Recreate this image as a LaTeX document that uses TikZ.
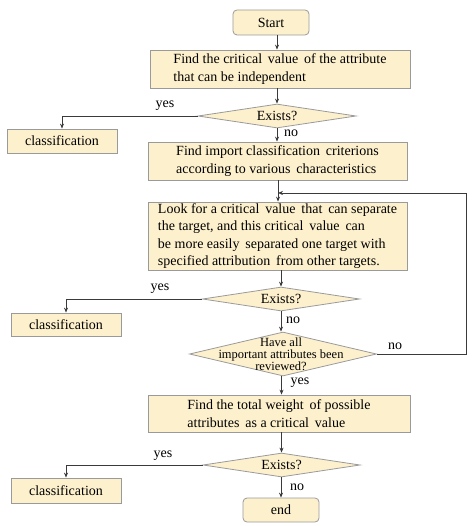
\documentclass[tikz,border=0pt]{standalone}
\usepackage{fontspec}
\setmainfont{Liberation Serif}
\usetikzlibrary{shapes.geometric,arrows.meta}
\definecolor{boxfill}{HTML}{FDF0CD}
\definecolor{boxline}{HTML}{9A9A9A}
\definecolor{conn}{HTML}{3A3A3A}
\begin{document}
\begin{tikzpicture}[x=1pt,y=-1pt,
  every node/.style={font=\fontsize{14}{17.3}\selectfont},
  procbox/.style={draw=boxline,fill=boxfill,line width=0.8pt,inner sep=0pt,align=left},
  termbox/.style={procbox,rounded corners=4pt,align=center},
  decbox/.style={draw=boxline,fill=boxfill,line width=0.8pt,diamond,inner sep=0pt,aspect=6},
  lbl/.style={inner sep=0pt},
  arr/.style={draw=conn,line width=0.7pt,-{Stealth[length=5pt,width=4pt]}},
  ln/.style={draw=conn,line width=0.7pt}]
\useasboundingbox (0,0) rectangle (474,526);
\node[termbox,minimum width=76,minimum height=25] (start) at (271,22.5) {Start};
\node[procbox,minimum width=260,minimum height=38] (box1) at (280,69)
  {Find the critical\, value\, of the attribute\\that can be independent};
\node[decbox,minimum width=158,minimum height=24] (d1) at (277,116) {};
\node[lbl] (d1t) at (277,116) {Exists?};
\node[procbox,minimum width=110,minimum height=24,align=center] (cls1) at (62,141) {classification};
\node[procbox,minimum width=259,minimum height=38] (box2) at (277.5,161)
  {Find import classification\, criterions\\according to various\, characteristics};
\node[procbox,minimum width=259,minimum height=68] (box3) at (277.5,236)
  {Look for a critical\, value\, that\, can separate\\the target, and this critical\, value\, can\\be more easily\, separated one target with\\specified attribution\, from other targets.};
\node[decbox,minimum width=157,minimum height=24] (d2) at (281,299) {};
\node[lbl] (d2t) at (281,299) {Exists?};
\node[procbox,minimum width=110,minimum height=23,align=center] (cls2) at (66,324.5) {classification};
\node[decbox,minimum width=187,minimum height=44] (d3) at (283,354) {};
\node[lbl,align=center,font=\fontsize{12.5}{12.2}\selectfont] (d3t) at (281,354)
  {Have all\\important attributes been\\reviewed?};
\node[procbox,minimum width=262,minimum height=37] (box4) at (279,413.5)
  {Find the total weight\, of possible\\attributes\, as a critical\, value};
\node[decbox,minimum width=157,minimum height=24] (d4) at (281.5,465) {};
\node[lbl] (d4t) at (281.5,465) {Exists?};
\node[procbox,minimum width=110,minimum height=25,align=center] (cls3) at (66,490.5) {classification};
\node[termbox,minimum width=76,minimum height=24] (end) at (281,510) {end};
\coordinate (j) at (278,193);
% vertical flow
\draw[arr] (start.south -| d1) -- (box1.north -| d1);
\draw[arr] (box1.south -| d1) -- (d1.north);
\draw[arr] (d1.south) -- (box2.north -| d1);
\draw[arr] (box2.south -| j) -- (box3.north -| j);
\draw[arr] (box3.south -| d2) -- (d2.north);
\draw[arr] (d2.south) -- (d3.north -| d2);
\draw[arr] (d3.south -| d4) -- (box4.north -| d4);
\draw[arr] (box4.south -| d4) -- (d4.north);
\draw[arr] (d4.south -| end) -- (end.north);
% yes branches
\draw[arr] (d1.west) -| (cls1.north);
\draw[arr] (d2.west) -| (cls2.north);
\draw[arr] (d4.west) -| (cls3.north);
% feedback
\draw[arr] (d3.east) -- (466,354) |- (j);
% labels
\node[lbl] (y1) at (165,106) {yes};
\node[lbl] (n1) at (291,133) {no};
\node[lbl] (y2) at (160,289) {yes};
\node[lbl] (n2) at (293,320) {no};
\node[lbl] (n3) at (395,346) {no};
\node[lbl] (y3) at (300,383) {yes};
\node[lbl] (y4) at (163,456) {yes};
\node[lbl] (n4) at (297,487) {no};
\end{tikzpicture}
\end{document}
